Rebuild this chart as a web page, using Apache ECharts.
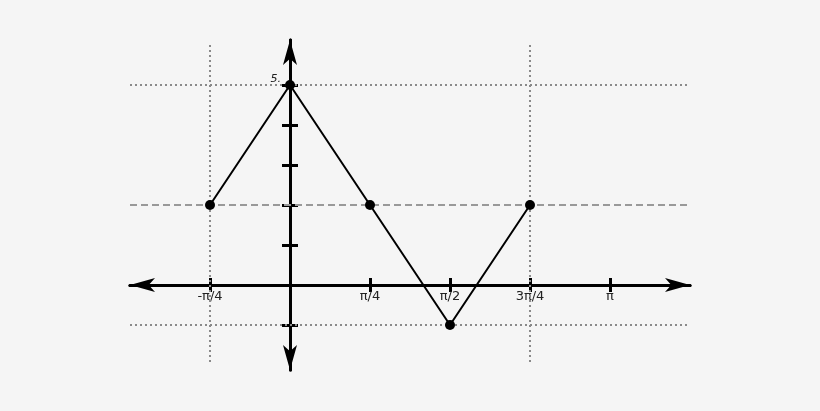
<!DOCTYPE html>
<html><head><meta charset="utf-8">
<script src="https://cdn.jsdelivr.net/npm/echarts@6/dist/echarts.min.js"></script>
<style>html,body{margin:0;padding:0;background:#f5f5f5}#c{width:820px;height:411px}</style>
</head><body><div id="c"></div>
<script>
// x values are in units of π/4
const xQuarterPi = [-1, 0, 1, 2, 3];
const yValues = [2, 5, 2, -1, 2];
const xTickValues = [-1, 1, 2, 3, 4];
const xTickLabels = ['-π/4', 'π/4', 'π/2', '3π/4', 'π'];
const yTickValues = [-1, 1, 2, 3, 4, 5];
const yLabelValues = [5];
const yLabelTexts = ['5.'];
const dottedY = [5, -1];
const dashedY = [2];
const dottedX = [-1, 3];
const guideTop = 6, guideBottom = -1.95;

const GRID = {left: 130, top: 40, width: 560, height: 330};
const X_MIN = -2, X_MAX = 5, Y_MIN = -2.125, Y_MAX = 6.125;
// pixel position of the zero lines inside the grid
const zeroX = GRID.left + (0 - X_MIN) / (X_MAX - X_MIN) * GRID.width;
const zeroY = GRID.top + (Y_MAX - 0) / (Y_MAX - Y_MIN) * GRID.height;

const chart = echarts.init(document.getElementById('c'));
const FONT = 'DejaVu Sans';
const tickStyle = {width: 3, color: '#000'};
const lineAxis = {show: true, onZero: false, lineStyle: {color: '#000', width: 3}};
const arrows = {symbol: ['arrow', 'arrow'], symbolSize: [10.5, 25], symbolOffset: [0, 0]};

const marks = [];
dottedY.forEach(v => marks.push({yAxis: v, lineStyle: {type: [2, 3], color: '#8a8a8a', width: 2}}));
dashedY.forEach(v => marks.push({yAxis: v, lineStyle: {type: [7, 4], color: '#999', width: 2}}));
dottedX.forEach(v => marks.push([
  {coord: [v, guideTop], lineStyle: {type: [2, 3], color: '#8a8a8a', width: 2}},
  {coord: [v, guideBottom]}
]));

chart.setOption({
  backgroundColor: '#f5f5f5',
  animation: false,
  grid: Object.assign({containLabel: false}, GRID),
  xAxis: [
    {type: 'value', position: 'bottom', min: X_MIN, max: X_MAX,
     offset: -(GRID.top + GRID.height - zeroY),
     axisLine: Object.assign({}, lineAxis, arrows),
     axisTick: {show: true, inside: false, length: 7, customValues: xTickValues, lineStyle: tickStyle},
     axisLabel: {show: true, customValues: xTickValues, margin: 5, fontFamily: FONT, fontSize: 13, color: '#222',
       formatter: v => xTickLabels[xTickValues.indexOf(Math.round(v))]},
     splitLine: {show: false}},
    {type: 'value', position: 'top', min: X_MIN, max: X_MAX,
     offset: -(zeroY - GRID.top),
     axisLine: Object.assign({}, lineAxis, {symbol: ['none', 'none']}),
     axisTick: {show: true, inside: false, length: 7, customValues: xTickValues, lineStyle: tickStyle},
     axisLabel: {show: false}, splitLine: {show: false}}
  ],
  yAxis: [
    {type: 'value', position: 'left', min: Y_MIN, max: Y_MAX,
     offset: -(zeroX - GRID.left),
     axisLine: Object.assign({}, lineAxis, arrows),
     axisTick: {show: true, inside: false, length: 8, customValues: yTickValues, lineStyle: tickStyle},
     axisLabel: {show: true, customValues: yLabelValues, margin: 9, fontFamily: FONT, fontSize: 11, fontStyle: 'italic', color: '#222',
       verticalAlign: 'bottom', formatter: v => yLabelTexts[yLabelValues.indexOf(Math.round(v))]},
     splitLine: {show: false}},
    {type: 'value', position: 'right', min: Y_MIN, max: Y_MAX,
     offset: -(GRID.left + GRID.width - zeroX),
     axisLine: Object.assign({}, lineAxis, {symbol: ['none', 'none']}),
     axisTick: {show: true, inside: false, length: 8, customValues: yTickValues, lineStyle: tickStyle},
     axisLabel: {show: false}, splitLine: {show: false}}
  ],
  series: [{
    type: 'line',
    xAxisIndex: 0, yAxisIndex: 0,
    data: xQuarterPi.map((x, i) => [x, yValues[i]]),
    symbol: 'circle', symbolSize: 10,
    itemStyle: {color: '#000'},
    lineStyle: {color: '#000', width: 2},
    z: 5,
    markLine: {silent: true, symbol: ['none', 'none'], label: {show: false}, z: 1, data: marks}
  }]
});
</script></body></html>
